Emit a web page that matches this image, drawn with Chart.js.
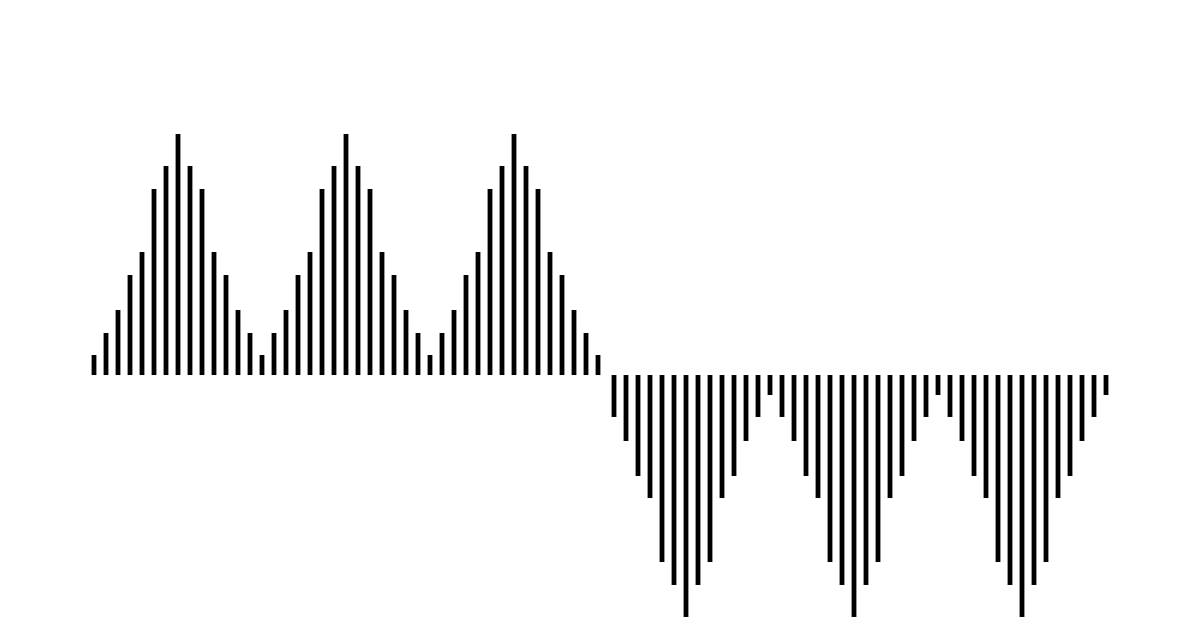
<!DOCTYPE html>
<html>
<head>
<meta charset="utf-8">
<style>
  html, body { margin: 0; padding: 0; background: #ffffff; }
  #wrap { width: 1200px; height: 627px; position: relative; }
</style>
<script src="https://cdn.jsdelivr.net/npm/chart.js@4/dist/chart.umd.min.js"></script>
</head>
<body>
<div id="wrap"><canvas id="c"></canvas></div>
<script>
const categories = [
  "1","2","3","4","5","6","7","8","9","10","11","12","13","14","15","16","17",
  "18","19","20","21","22","23","24","25","26","27","28","29","30","31","32","33",
  "34","35","36","37","38","39","40","41","42","43","44","45","46","47","48","49",
  "50","51","52","53","54","55","56","57","58","59","60","61","62","63","64","65",
  "66","67","68","69","70","71","72","73","74","75","76","77","78","79","80","81",
  "82","83","84","85"
];

// first 43 categories
const positiveValues = [
  20, 42, 65, 100, 123, 186, 209, 241, 209, 186, 123, 100, 65, 42,
  20, 42, 65, 100, 123, 186, 209, 241, 209, 186, 123, 100, 65, 42,
  20, 42, 65, 100, 123, 186, 209, 241, 209, 186, 123, 100, 65, 42,
  20
];

// last 42 categories
const negativeValues = [
  -42, -66, -101, -123, -187, -210, -242, -210, -187, -123, -101, -66, -42,
  -20, -42, -66, -101, -123, -187, -210, -242, -210, -187, -123, -101, -66, -42,
  -20, -42, -66, -101, -123, -187, -210, -242, -210, -187, -123, -101, -66, -42,
  -20
];

const yMin = -242;
const yMax = 241;

const posData = positiveValues.concat(new Array(categories.length - positiveValues.length).fill(null));
const negData = new Array(categories.length - negativeValues.length).fill(null).concat(negativeValues);

new Chart(document.getElementById('c'), {
  type: 'bar',
  data: {
    labels: categories,
    datasets: [
      { data: posData, backgroundColor: '#000000', borderWidth: 0, categoryPercentage: 0.667, barPercentage: 1.2 },
      { data: negData, backgroundColor: '#000000', borderWidth: 0, categoryPercentage: 0.667, barPercentage: 1.2 }
    ]
  },
  options: {
    responsive: true,
    maintainAspectRatio: false,
    animation: false,
    layout: { padding: { left: 90, right: 90, top: 134, bottom: 10 } },
    plugins: { legend: { display: false }, tooltip: { enabled: false } },
    scales: {
      x: { display: false, grid: { display: false } },
      y: { display: false, min: yMin, max: yMax, grid: { display: false } }
    }
  }
});
</script>
</body>
</html>
